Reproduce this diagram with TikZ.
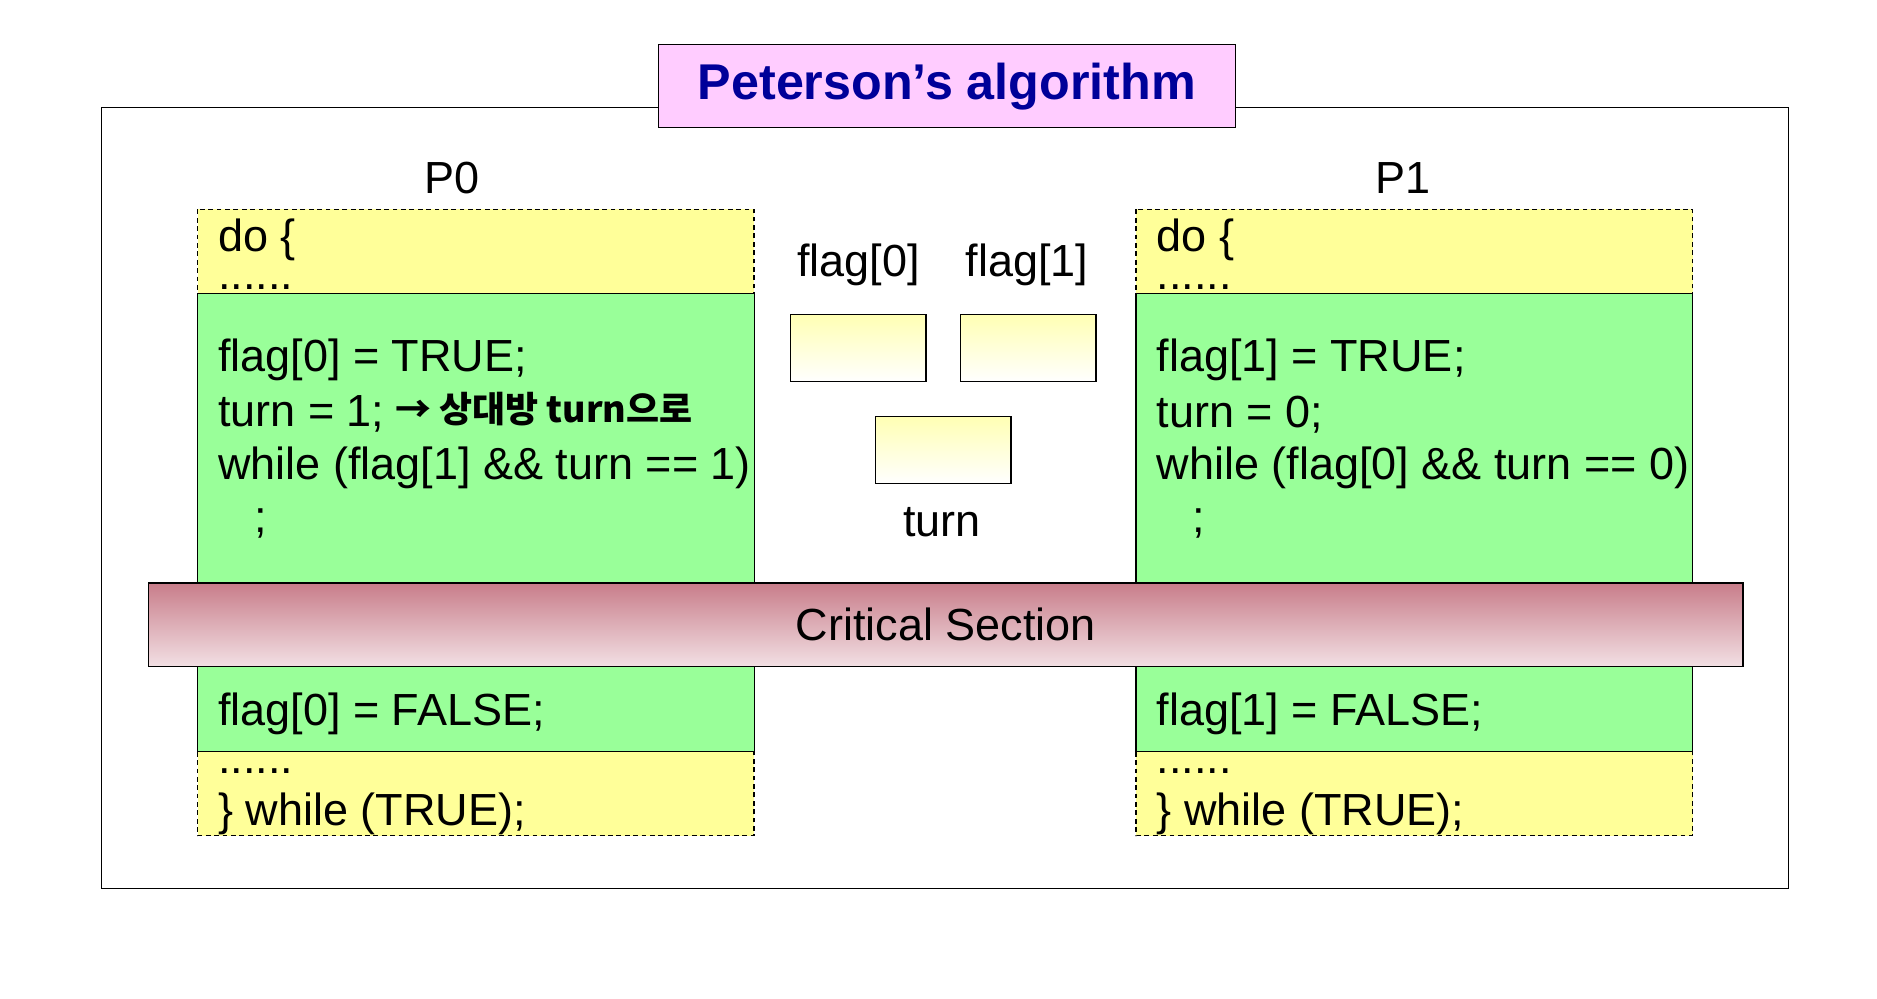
\documentclass[tikz,border=0pt]{standalone}
\usepackage{fontspec}
\setmainfont{Liberation Sans}
\newfontfamily\kr{Noto Sans CJK KR}
\begin{document}
\begin{tikzpicture}[x=1pt,y=-1pt,
  txt/.style={anchor=west,inner sep=0pt,font=\fontsize{37.6}{44}\selectfont},
  ctxt/.style={inner sep=0pt,font=\fontsize{37.6}{44}\selectfont},
  ybox/.style={draw,dash pattern=on 4pt off 3pt,line width=1.2pt,fill={rgb,255:red,255;green,255;blue,153}},
  gbox/.style={draw,line width=1pt,fill={rgb,255:red,153;green,255;blue,153}},
  vbox/.style={draw,line width=1pt,top color={rgb,255:red,255;green,255;blue,180},bottom color=white}]
\useasboundingbox (0,0) rectangle (1568,834);
\draw[line width=1pt] (85,90) rectangle (1494,742);
\node[draw,line width=1pt,fill={rgb,255:red,255;green,204;blue,255},minimum width=482pt,minimum height=69pt,font=\fontsize{42}{48}\selectfont\bfseries,text={rgb,255:red,0;green,0;blue,153}] (title) at (791,72) {Peterson’s algorithm};
\foreach \n/\x in {0/165,1/949}{
  \draw[ybox] (\x,175) rectangle +(465,70);
  \draw[gbox] (\x,245) rectangle +(465,242);
  \draw[gbox] (\x,557) rectangle +(465,71);
  \draw[ybox] (\x,628) rectangle +(465,70);
  \draw[line width=1.2pt] (\x,245) -- +(465,0) (\x,628) -- +(465,0);
}
\node[ctxt] (p0) at (378,149) {P0};
\node[ctxt] (p1) at (1172,149) {P1};
\node[txt] (a1) at (182,200) {do \{};
\node[txt] (a2) at (182,240) {......};
\node[txt] (a3) at (182,301) {flag[0] = TRUE;};
\node[txt] (a4) at (182,346) {turn = 1;};
\node[txt] (a5) at (182,391) {while (flag[1] \&\& turn == 1)};
\node[txt] (a6) at (212,437) {;};
\node[txt] (a7) at (182,596) {flag[0] = FALSE;};
\node[txt] (a8) at (182,644) {......};
\node[txt] (a9) at (182,680) {\} while (TRUE);};
\node[anchor=west,inner sep=0pt,font=\kr\fontsize{30}{34}\selectfont\bfseries] (note) at (330,342) {→ 상대방 turn으로};
\node[txt] (b1) at (966,200) {do \{};
\node[txt] (b2) at (966,240) {......};
\node[txt] (b3) at (966,301) {flag[1] = TRUE;};
\node[txt] (b4) at (966,346) {turn = 0;};
\node[txt] (b5) at (966,391) {while (flag[0] \&\& turn == 0)};
\node[txt] (b6) at (996,437) {;};
\node[txt] (b7) at (966,596) {flag[1] = FALSE;};
\node[txt] (b8) at (966,644) {......};
\node[txt] (b9) at (966,680) {\} while (TRUE);};
\node[draw,line width=1pt,top color={rgb,255:red,200;green,125;blue,138},bottom color={rgb,255:red,242;green,224;blue,228},minimum width=1332pt,minimum height=70pt,ctxt] (cs) at (790,522) {Critical Section};
\node[ctxt] (lf0) at (717,221) {flag[0]};
\node[ctxt] (lf1) at (858,221) {flag[1]};
\node[vbox,minimum width=113pt,minimum height=56pt] (f0) at (717,291) {};
\node[vbox,minimum width=113pt,minimum height=56pt] (f1) at (859,291) {};
\node[vbox,minimum width=113pt,minimum height=56pt] (t) at (788,376) {};
\node[ctxt] (lt) at (787,436) {turn};
\end{tikzpicture}
\end{document}
